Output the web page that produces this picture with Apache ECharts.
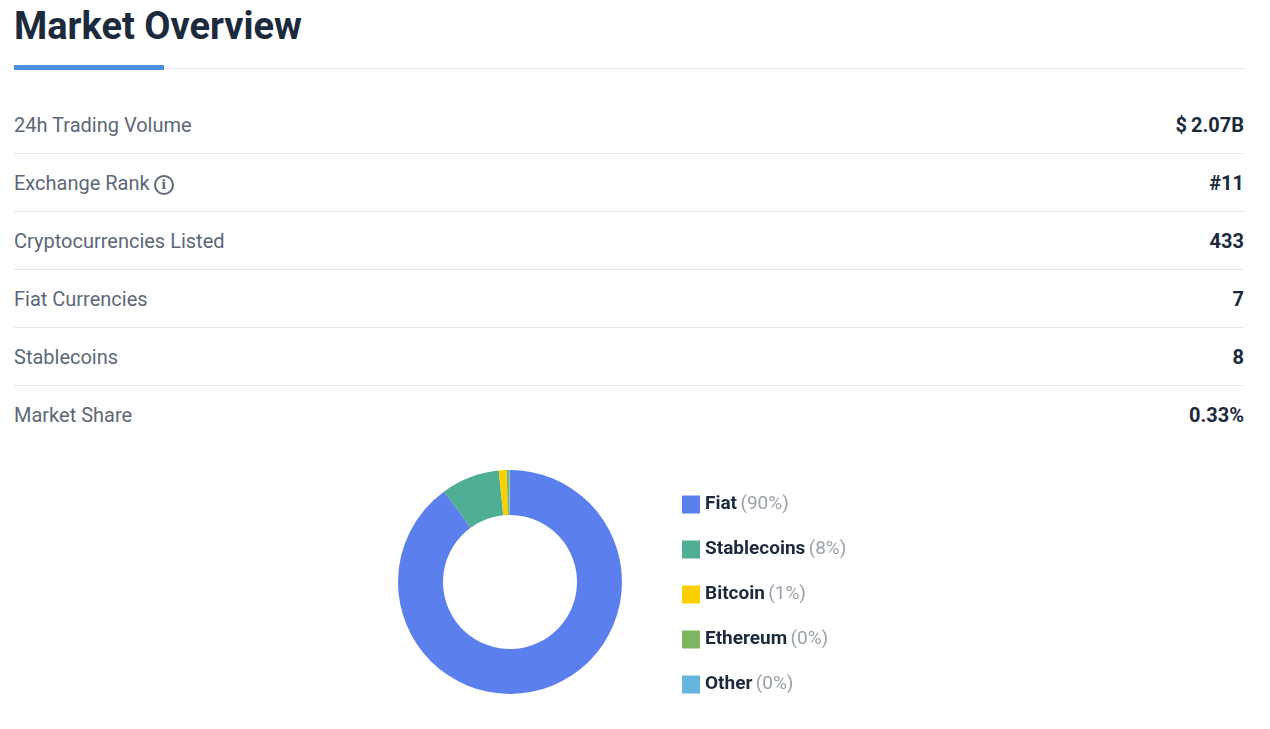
<!DOCTYPE html>
<html>
<head>
<meta charset="utf-8">
<script src="https://cdn.jsdelivr.net/npm/echarts@6/dist/echarts.min.js"></script>
<style>
body { margin: 0; background: #fff; font-family: Roboto, "Noto Sans", sans-serif; }
.wrap { position: absolute; left: 14px; width: 1230px; top: 0; }
h1 { margin: 0; position: absolute; top: 4px; left: 0; font-size: 38px; font-weight: 700; color: #1b2a3d; }
.hline { position: absolute; top: 68px; left: 0; width: 1230px; height: 1px; background: #e6e8eb; }
.hbar { position: absolute; top: 65px; left: 0; width: 150px; height: 5px; background: #4a8fe0; }
.rows { position: absolute; top: 96px; left: 0; width: 1230px; }
.row { height: 58px; display: flex; justify-content: space-between; align-items: center; border-bottom: 1px solid #e6e8eb; box-sizing: border-box; }
.row:last-child { border-bottom: none; }
.row .k { font-size: 20px; color: #5c6877; }
.row .v { font-size: 20px; font-weight: 700; color: #1b2a3d; }
.info { display: inline-block; width: 16px; height: 16px; border: 2px solid #5c6877; border-radius: 50%; font-size: 13px; line-height: 16px; text-align: center; font-weight: 700; vertical-align: 1px; margin-left: 4px; font-family: "DejaVu Serif", serif; }
#chart { position: absolute; left: 0; top: 440px; width: 1270px; height: 289px; }
</style>
</head>
<body>
<div class="wrap">
  <h1>Market Overview</h1>
  <div class="hline"></div>
  <div class="hbar"></div>
  <div class="rows" id="rows"></div>
</div>
<div id="chart"></div>
<script>
var statLabels = ['24h Trading Volume', 'Exchange Rank', 'Cryptocurrencies Listed', 'Fiat Currencies', 'Stablecoins', 'Market Share'];
var statValues = ['$\u20092.07B', '#11', '433', '7', '8', '0.33%'];

var names = ['Fiat', 'Stablecoins', 'Bitcoin', 'Ethereum', 'Other'];
var shares = [90.0, 8.4, 1.1, 0.4, 0.1];
var shareLabels = ['90%', '8%', '1%', '0%', '0%'];
var colors = ['#5b7fec', '#50ae94', '#fcd000', '#7fb560', '#64b5dd'];

var html = '';
statLabels.forEach(function (k, i) {
    var extra = k === 'Exchange Rank' ? '<span class="info">i</span>' : '';
    html += '<div class="row"><span class="k">' + k + extra + '</span><span class="v">' + statValues[i] + '</span></div>';
});
document.getElementById('rows').innerHTML = html;

var chart = echarts.init(document.getElementById('chart'));
chart.setOption({
    animation: false,
    color: colors,
    legend: {
        orient: 'vertical',
        left: 677,
        top: 50,
        itemWidth: 18,
        itemHeight: 18,
        itemGap: 26,
        icon: 'rect',
        selectedMode: false,
        formatter: function (n) {
            return '{n|' + n + '} {p|(' + shareLabels[names.indexOf(n)] + ')}';
        },
        textStyle: {
            rich: {
                n: { fontSize: 19, fontWeight: 700, color: '#1b2a3d', fontFamily: 'Roboto' },
                p: { fontSize: 19, color: '#9aa1aa', fontFamily: 'Roboto' }
            }
        },
        data: names
    },
    series: [{
        type: 'pie',
        center: [510, 142],
        radius: [67, 112],
        startAngle: 90,
        label: { show: false },
        labelLine: { show: false },
        emphasis: { disabled: true },
        data: names.map(function (n, i) { return { name: n, value: shares[i] }; })
    }]
});
</script>
</body>
</html>
